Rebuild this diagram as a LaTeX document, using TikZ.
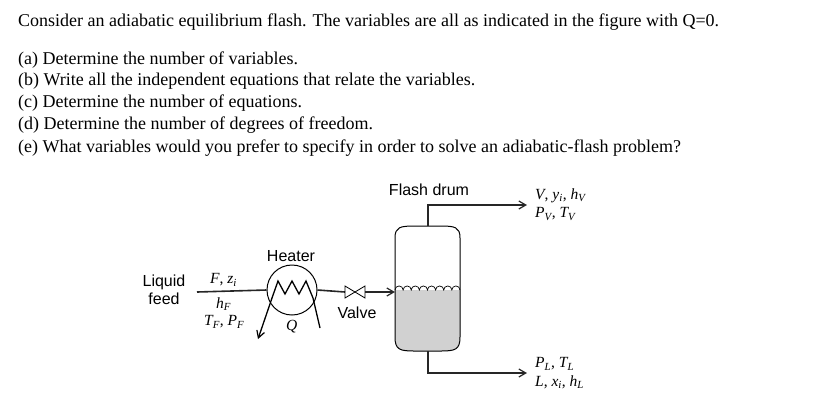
\documentclass[tikz,border=0pt]{standalone}
\usepackage{fontspec}
\setmainfont{Liberation Serif}
\newfontfamily\lsans{Liberation Sans}
\usetikzlibrary{arrows.meta}
\begin{document}
\begin{tikzpicture}[x=1pt,y=-1pt,
  q/.style={anchor=west,inner sep=0pt,font=\fontsize{18}{20}\selectfont},
  lab/.style={inner sep=0pt,font=\lsans\fontsize{16}{17}\selectfont},
  var/.style={inner sep=0pt,anchor=west,font=\fontsize{15.5}{16}\selectfont\itshape},
  pipe/.style={line width=1.6pt,draw=black!85},
  arr/.style={-{Straight Barb[length=7pt,width=8pt,line width=1.2pt]}}]
\useasboundingbox (0,0) rectangle (826,408);
\node[q] (t0) at (18,22) {Consider an adiabatic equilibrium flash. The variables are all as indicated in the figure with Q=0.};
\node[q] (t1) at (18,60) {(a) Determine the number of variables.};
\node[q] (t2) at (18,81) {(b) Write all the independent equations that relate the variables.};
\node[q] (t3) at (18,103) {(c) Determine the number of equations.};
\node[q] (t4) at (18,125) {(d) Determine the number of degrees of freedom.};
\node[q] (t5) at (18,148) {(e) What variables would you prefer to specify in order to solve an adiabatic-flash problem?};
% drum
\fill[black!18] (395,290) -- (460,290) -- (460,337) .. controls (460,350) and (455,351) .. (440,351) -- (415,351) .. controls (400,351) and (395,350) .. (395,337) -- cycle;
\draw[line width=1pt] (395,238) .. controls (395,227) and (400,226) .. (415,226) -- (440,226) .. controls (455,226) and (460,227) .. (460,238) -- (460,337) .. controls (460,350) and (455,351) .. (440,351) -- (415,351) .. controls (400,351) and (395,350) .. (395,337) -- cycle;
\draw[line width=0.7pt] (395,290) \foreach \i in {0,...,7}{ arc[start angle=180,end angle=360,radius=4.06] };
\coordinate (drumin) at (395,292);
\coordinate (vtop) at (428,226);
\coordinate (lbot) at (428,351);
% vapour & liquid
\draw[pipe,arr] (vtop) -- (428,205) -- (527,205);
\draw[pipe,arr] (lbot) -- (428,373) -- (527,373);
% heater
\node[circle,draw,line width=1pt,minimum size=50pt,inner sep=0pt] (heat) at (292,290) {};
\coordinate (fin) at (197,292);
\draw[pipe] (fin) -- (heat.west);
\draw[pipe] (heat.east) -- (345,292);
% valve
\draw[line width=0.8pt] (345,286) -- (365,298) -- (365,286) -- (345,298) -- cycle;
\draw[pipe,arr] (365,292) -- (drumin);
\draw[line width=1.3pt,arr] (272,298) -- (258,339);
\draw[line width=1.3pt] (272,298) -- (278,281) -- (285,294) -- (292,281) -- (299,294) -- (306,281) -- (313,298) -- (320,328);
% labels
\node[lab] (heatl) at (291,256) {Heater};
\node[lab] (flash) at (429,190) {Flash drum};
\node[lab] (valve) at (357,313) {Valve};
\node[lab] (feed1) at (164,282) {Liquid};
\node[lab] (feed2) at (164,299) {feed};
\node[var] (fz) at (210,280) {F\upshape, \itshape z\textsubscript{i}};
\node[var] (hf) at (216,304) {h\textsubscript{F}};
\node[var] (tp) at (204,322) {T\textsubscript{F}\upshape, \itshape P\textsubscript{F}};
\node[var] (qq) at (286,327) {Q};
\node[var] (v1) at (535,196) {V\upshape, \itshape y\textsubscript{i}\upshape, \itshape h\textsubscript{V}};
\node[var] (v2) at (535,214) {P\textsubscript{V}\upshape, \itshape T\textsubscript{V}};
\node[var] (l1) at (535,364) {P\textsubscript{L}\upshape, \itshape T\textsubscript{L}};
\node[var] (l2) at (535,382) {L\upshape, \itshape x\textsubscript{i}\upshape, \itshape h\textsubscript{L}};
\end{tikzpicture}
\end{document}
